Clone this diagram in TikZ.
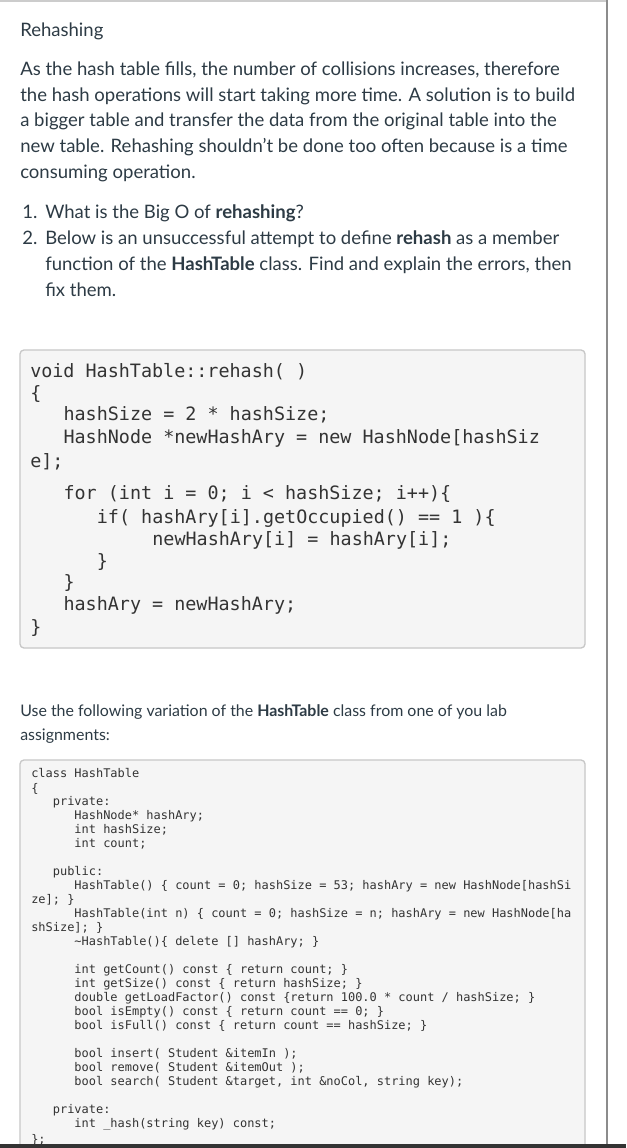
\documentclass[tikz,border=0pt]{standalone}
\usepackage{fontspec}
\setmainfont{Lato}
\newfontfamily\codefont{DejaVu Sans Mono}
\definecolor{txt}{HTML}{2D3B45}
\definecolor{cd}{HTML}{333333}
\begin{document}
\begin{tikzpicture}[x=0.75pt,y=-0.75pt,
  body/.style={anchor=base west,inner sep=0pt,text=txt,font=\fontsize{13.9}{15}\selectfont},
  small/.style={anchor=base west,inner sep=0pt,text=txt,font=\fontsize{11.95}{13}\selectfont},
  big/.style={anchor=base west,inner sep=0pt,text=cd,font=\codefont\fontsize{13.8}{15}\selectfont},
  sm/.style={anchor=base west,inner sep=0pt,text=cd,font=\codefont\fontsize{8.97}{10}\selectfont},
  cbox/.style={draw=black!22,fill=black!4,rounded corners=3pt,line width=1pt}]
\useasboundingbox (0,0) rectangle (626,1148);
\fill[white] (0,0) rectangle (626,1148);
\draw[black!20,line width=1.5pt] (0,1.5) -- (607,1.5);
\draw[black!45,line width=1.5pt] (607,0) -- (607,1148);
% text
\node[body] (t0) at (20,37) {Rehashing};
\node[body] (p1) at (20,76) {As the hash table fills, the number of collisions increases, therefore};
\node[body] (p2) at (20,102) {the hash operations will start taking more time. A solution is to build};
\node[body] (p3) at (20,127) {a bigger table and transfer the data from the original table into the};
\node[body] (p4) at (20,153) {new table. Rehashing shouldn't be done too often because is a time};
\node[body] (p5) at (20,179) {consuming operation.};
\node[body] (n1) at (22,219) {1.};
\node[body] (l1) at (45,219) {What is the Big O of \textbf{rehashing}?};
\node[body] (n2) at (22,244) {2.};
\node[body] (l2) at (45,244) {Below is an unsuccessful attempt to define \textbf{rehash} as a member};
\node[body] (l3) at (45,270) {function of the \textbf{HashTable} class. Find and explain the errors, then};
\node[body] (l4) at (45,296) {fix them.};
% code box 1
\draw[cbox] (20,350) rectangle (585,648);
\node[big] (c1) at (30,377) {void HashTable::rehash( )};
\node[big] (c2) at (30,399) {\{};
\node[big] (c3) at (63.3,420) {hashSize = 2 * hashSize;};
\node[big] (c4) at (63.3,443) {HashNode *newHashAry = new HashNode[hashSiz};
\node[big] (c5) at (30,467) {e];};
\node[big] (c6) at (63.3,499) {for (int i = 0; i < hashSize; i++)\{};
\node[big] (c7) at (96.6,523) {if( hashAry[i].getOccupied() == 1 )\{};
\node[big] (c8) at (152.1,545) {newHashAry[i] = hashAry[i];};
\node[big] (c9) at (96.6,567) {\}};
\node[big] (c10) at (63.3,588) {\}};
\node[big] (c11) at (63.3,610) {hashAry = newHashAry;};
\node[big] (c12) at (30,633) {\}};
% middle text
\node[small] (u1) at (20,716) {Use the following variation of the \textbf{HashTable} class from one of you lab};
\node[small] (u2) at (20,740) {assignments:};
% code box 2
\draw[cbox] (20,760) rectangle (585,1160);
\foreach \yy/\ind/\s [count=\k] in {
 777/0/{class HashTable},
 792/0/{\{},
 805/3/{private:},
 819/6/{HashNode* hashAry;},
 833/6/{int hashSize;},
 847/6/{int count;},
 875/3/{public:},
 889/6/{HashTable() \{ count = 0; hashSize = 53; hashAry = new HashNode[hashSi},
 903/0/{ze]; \}},
 917/6/{HashTable(int n) \{ count = 0; hashSize = n; hashAry = new HashNode[ha},
 931/0/{shSize]; \}},
 945/6/{\textasciitilde HashTable()\{ delete [] hashAry; \}},
 973/6/{int getCount() const \{ return count; \}},
 987/6/{int getSize() const \{ return hashSize; \}},
 1001/6/{double getLoadFactor() const \{return 100.0 * count / hashSize; \}},
 1015/6/{bool isEmpty() const \{ return count == 0; \}},
 1029/6/{bool isFull() const \{ return count == hashSize; \}},
 1057/6/{bool insert( Student \&itemIn );},
 1071/6/{bool remove( Student \&itemOut );},
 1085/6/{bool search( Student \&target, int \&noCol, string key);},
 1113/3/{private:},
 1127/6/{int \_hash(string key) const;},
 1143/0/{\};}}
 \node[sm] (s\k) at ({31+\ind*7.2},\yy) {\s};
\fill[black!80] (0,1144) rectangle (626,1148);
\end{tikzpicture}
\end{document}
